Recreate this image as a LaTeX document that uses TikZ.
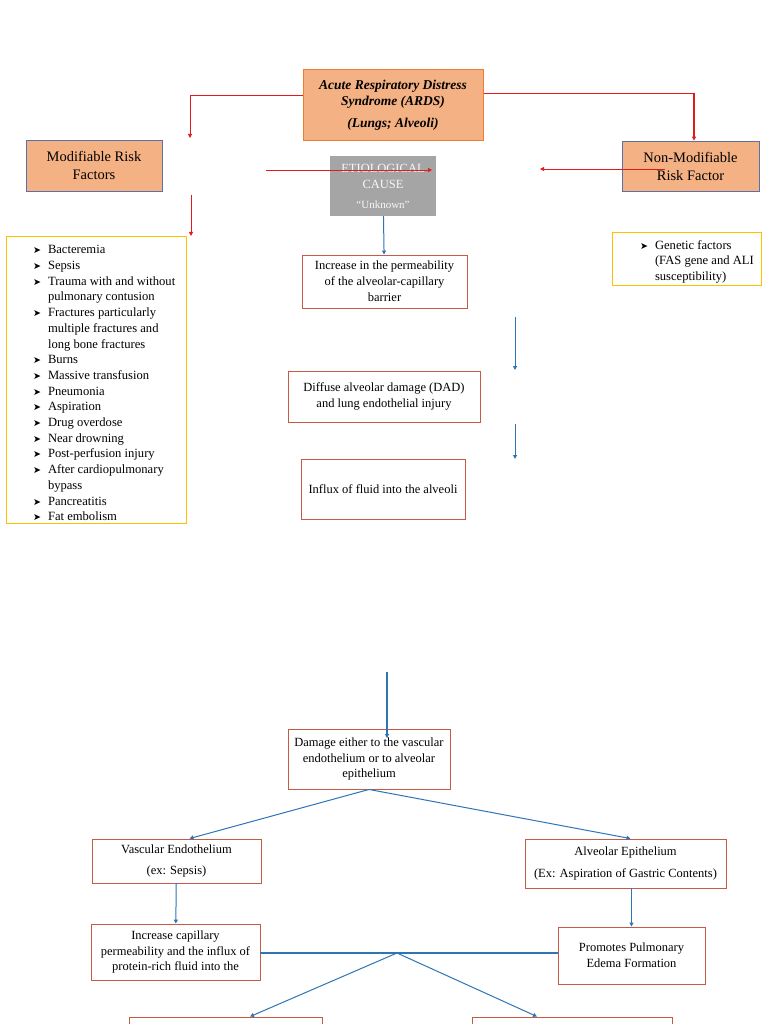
\documentclass[tikz,border=0pt]{standalone}
\usepackage{fontspec}
\setmainfont{Liberation Serif}
\newfontfamily\arrowfont{DejaVu Sans}
\usepackage{xcolor}
\usetikzlibrary{shapes,arrows.meta,positioning,calc}

\definecolor{salmon}{HTML}{F4B183}
\definecolor{ardsline}{HTML}{ED7D31}
\definecolor{slateline}{HTML}{5B6FA8}
\definecolor{boxline}{HTML}{C55A45}
\definecolor{listline}{HTML}{FFC000}
\definecolor{flowblue}{HTML}{2E75B6}
\definecolor{flowred}{HTML}{E31B1B}
\definecolor{etiogray}{HTML}{A5A5A5}

\newcommand{\riskitem}[1]{\par\noindent\makebox[15pt][l]{\arrowfont\fontsize{9.5}{9.5}\selectfont\symbol{"27A4}}#1}
\newcommand{\riskmore}[1]{\par\noindent\hspace*{15pt}#1}

\begin{document}
\begin{tikzpicture}[
    x=1pt, y=-1pt,
    flowbox/.style={rectangle, draw=boxline, line width=0.9pt, align=center, inner sep=2pt, font=\fontsize{12.5}{15.8}\selectfont},
    riskbox/.style={rectangle, draw=slateline, fill=salmon, line width=0.8pt, align=center, font=\fontsize{14.5}{18}\selectfont},
    yellowbox/.style={rectangle, draw=listline, line width=0.9pt, align=left, inner sep=0pt, font=\fontsize{12.6}{15.7}\selectfont},
    redarrow/.style={-{Triangle[length=4pt,width=4pt]}, draw=flowred, line width=0.9pt},
    bluearrow/.style={-{Triangle[length=4pt,width=4pt]}, draw=flowblue, line width=1pt}
]
    \clip (0,0) rectangle (768,1024);
    \fill[white] (0,0) rectangle (768,1024);

    % top row
    \node[rectangle, draw=ardsline, fill=salmon, line width=1pt, align=center,
          minimum width=180pt, minimum height=71pt,
          font=\fontsize{13.5}{16}\selectfont\bfseries\itshape] (ards) at (393,105.5)
        {Acute Respiratory Distress\\Syndrome (ARDS)\\[6pt](Lungs; Alveoli)};
    \node[riskbox, minimum width=136pt, minimum height=51pt] (modif) at (94,165.5) {Modifiable Risk\\Factors};
    \node[riskbox, minimum width=137pt, minimum height=50pt] (nonmod) at (690.5,166) {Non-Modifiable\\Risk Factor};
    \node[rectangle, fill=etiogray, text=white!92!etiogray, align=center, minimum width=106pt, minimum height=60pt,
          font=\fontsize{12.5}{16}\selectfont] (etio) at (383,186)
        {ETIOLOGICAL\\CAUSE\\[4pt]{\fontsize{11}{12}\selectfont “Unknown”}};

    % risk factor lists
    \node[yellowbox, text width=180pt, minimum height=287pt] (risklist) at (96,379.5)
        {\leftskip=27pt\spaceskip=0pt\xspaceskip=0pt
        \riskitem{Bacteremia}
        \riskitem{Sepsis}
        \riskitem{Trauma with and without}
        \riskmore{pulmonary contusion}
        \riskitem{Fractures particularly}
        \riskmore{multiple fractures and}
        \riskmore{long bone fractures}
        \riskitem{Burns}
        \riskitem{Massive transfusion}
        \riskitem{Pneumonia}
        \riskitem{Aspiration}
        \riskitem{Drug overdose}
        \riskitem{Near drowning}
        \riskitem{Post-perfusion injury}
        \riskitem{After cardiopulmonary}
        \riskmore{bypass}
        \riskitem{Pancreatitis}
        \riskitem{Fat embolism}\par};
    \node[yellowbox, text width=149pt, minimum height=53pt] (genetic) at (686.5,258.5)
        {\leftskip=28pt\spaceskip=0pt\xspaceskip=0pt
        \riskitem{Genetic factors}
        \riskmore{(FAS gene and ALI}
        \riskmore{susceptibility)}\par};

    % middle column
    \node[flowbox, minimum width=165pt, minimum height=53pt] (perm) at (384.5,281.5)
        {Increase in the permeability\\of the alveolar-capillary\\barrier};
    \node[flowbox, minimum width=192pt, minimum height=51pt] (dad) at (384,396.5)
        {Diffuse alveolar damage (DAD)\\and lung endothelial injury};
    \node[flowbox, minimum width=164pt, minimum height=60pt] (influx) at (383,489)
        {Influx of fluid into the alveoli};

    % lower part
    \node[flowbox, minimum width=162pt, minimum height=60pt] (damage) at (369,759)
        {Damage either to the vascular\\endothelium or to alveolar\\epithelium};
    \node[flowbox, minimum width=169pt, minimum height=44pt] (vasc) at (176.5,861)
        {Vascular Endothelium\\[6pt](ex: Sepsis)};
    \node[flowbox, minimum width=201pt, minimum height=49pt] (alvep) at (625.5,863.5)
        {Alveolar Epithelium\\[6pt](Ex: Aspiration of Gastric Contents)};
    \node[flowbox, minimum width=169pt, minimum height=56pt] (capperm) at (175.5,952)
        {Increase capillary\\permeability and the influx of\\protein-rich fluid into the};
    \node[flowbox, minimum width=147pt, minimum height=57pt] (promotes) at (631.5,955.5)
        {Promotes Pulmonary\\Edema Formation};
    \node[flowbox, minimum width=193pt, minimum height=46pt] (botleft) at (225.5,1040) {};
    \node[flowbox, minimum width=200pt, minimum height=46pt] (botright) at (572,1040) {};

    % loose arrow ends
    \coordinate (modtip) at (190,138);
    \coordinate (redstart) at (266,170);
    \coordinate (redend) at (432,170);
    \coordinate (nonstart) at (665,169);
    \coordinate (nonend) at (540,169);
    \coordinate (listtop) at (191,195);
    \coordinate (listend) at (191,236);
    \coordinate (dadtop) at (515,317);
    \coordinate (dadend) at (515,370);
    \coordinate (influxtop) at (515,424);
    \coordinate (influxend) at (515,459);
    \coordinate (gaptop) at (387,672);
    \coordinate (gapend) at (387,738);
    \coordinate (join) at (397,953);

    % red connectors
    \draw[redarrow] ([yshift=10pt]ards.west) -| (modtip);
    \draw[redarrow, line width=1.5pt] ([yshift=12pt]ards.east) -| ([xshift=3.5pt]nonmod.north);
    \draw[redarrow] (redstart) -- (redend);
    \draw[redarrow] (nonstart) -- (nonend);
    \draw[redarrow] (listtop) -- (listend);

    % blue connectors
    \draw[bluearrow] (etio) -- (perm);
    \draw[bluearrow] (dadtop) -- (dadend);
    \draw[bluearrow] (influxtop) -- (influxend);
    \draw[bluearrow, line width=1.6pt] (gaptop) -- (gapend);
    \draw[bluearrow] (damage.south) -- ([xshift=13pt]vasc.north);
    \draw[bluearrow] (damage.south) -- ([xshift=5pt]alvep.north);
    \draw[bluearrow] (vasc) -- (capperm);
    \draw[bluearrow] (alvep.south -| promotes.north) -- (promotes.north);
    \draw[draw=flowblue, line width=1.2pt] (capperm.east |- join) -- (promotes.west |- join);
    \draw[bluearrow] (join) -- ([xshift=24.5pt]botleft.north);
    \draw[bluearrow] (join) -- ([xshift=-35pt]botright.north);
\end{tikzpicture}
\end{document}
